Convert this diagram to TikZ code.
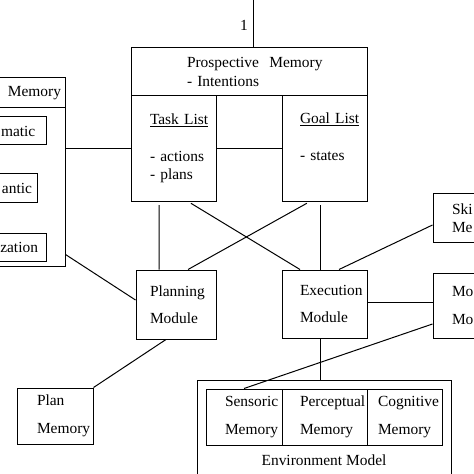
\documentclass[tikz,border=0pt]{standalone}
\usepackage{fontspec}
\setmainfont{Liberation Serif}
\usetikzlibrary{positioning}
\hyphenpenalty=10000
\exhyphenpenalty=10000
\tikzset{
  box/.style={draw, line width=1bp, inner ysep=0pt, align=left, font=\fontsize{15.5}{18.5}\selectfont},
  rbox/.style={box, align=right},
  txt/.style={inner sep=0pt, font=\fontsize{15.5}{18.5}\selectfont},
  link/.style={line width=1bp},
  gapline/.style={link, shorten <=3.5bp}
}
\begin{document}
\begin{tikzpicture}[x=1bp, y=-1bp]
  \clip (0,0) rectangle (474,474);
  \fill[white] (0,0) rectangle (474,474);
  % intentions
  \node[box, text width=124bp, inner xsep=56bp, minimum height=48bp] (pm) at (249,72) {\mbox{Prospective\ \ Memory}\\\mbox{- Intentions}};
  \node[box, text width=47bp, inner xsep=19bp, minimum height=105bp] (task) at (173.5,148.5) {\mbox{\underline{Task List}}\\[18.5bp]\mbox{- actions}\\\mbox{- plans}};
  \node[box, text width=49bp, inner xsep=18bp, minimum height=105bp] (goal) at (324.5,148.5) {\mbox{\underline{Goal List}}\\[18.5bp]\mbox{- states}\\\strut};
  \coordinate (top) at (253,-2);
  \node[txt] (one) at (244,25) {1};
  % long-term memory (cut off at the left)
  \node[rbox, text width=67bp, inner xsep=4bp, minimum height=30bp] (ltmhead) at (27.5,93) {Memory};
  \node[box, minimum width=75bp, minimum height=158bp] (ltm) at (27.5,187) {};
  \node[rbox, text width=34bp, inner xsep=11bp, minimum height=28bp] (schem) at (18,131) {matic};
  \node[rbox, text width=37bp, inner xsep=5bp, minimum height=29bp] (sem) at (13.5,188.5) {antic};
  \node[rbox, text width=40bp, inner xsep=8bp, minimum height=28bp] (org) at (18,247) {zation};
  % modules
  \node[box, text width=52bp, inner xsep=14bp, minimum height=69bp] (plan) at (176,304.5) {Planning\\[9bp]Module};
  \node[box, text width=49bp, inner xsep=18bp, minimum height=68bp] (exec) at (324.5,304) {Execution\\[9bp]Module};
  \node[box, text width=37bp, inner xsep=19bp, minimum height=56bp] (planmem) at (55.5,416) {Plan\\[9.5bp]Memory};
  \node[box, text width=19bp, inner xsep=19bp, minimum height=48bp] (skill) at (461.5,218) {Ski\\Me};
  \node[box, text width=19bp, inner xsep=19bp, minimum height=65bp] (motor) at (461.5,305.5) {Mo\\[10.5bp]Mo};
  % environment model
  \node[box, minimum width=254bp, minimum height=110bp] (env) at (324,435) {};
  \node[box, text width=38bp, inner xsep=19bp, minimum height=56bp] (sens) at (244,417) {Sensoric\\[9.5bp]Memory};
  \node[box, text width=49bp, inner xsep=18bp, minimum height=56bp] (perc) at (324.5,417) {Perceptual\\[9.5bp]Memory};
  \node[box, text width=53bp, inner xsep=11bp, minimum height=56bp] (cog) at (404.5,417) {Cognitive\\[9.5bp]Memory};
  \node[txt] (envname) at (324,460) {Environment Model};

  \draw[link] (top) -- (top |- pm.north);
  \draw[link] (ltm.east |- task.west) -- (task.west);
  \draw[link] (task.east) -- (goal.west);
  \draw[gapline] ([xshift=-14.5bp]task.south) -- ([xshift=-17bp]plan.north);
  \draw[gapline] ([xshift=14.5bp]task.south) -- ([xshift=-24.5bp]exec.north);
  \draw[gapline] ([xshift=-14.5bp]goal.south) -- ([xshift=12bp]plan.north);
  \draw[gapline] ([xshift=-4.5bp]goal.south) -- ([xshift=-4.5bp]exec.north);
  \draw[link] ([yshift=12bp]ltm.south east) -- ([yshift=4.5bp]plan.west);
  \draw[link] ([xshift=-10bp]plan.south) -- (planmem.north east);
  \draw[link] ([xshift=14.5bp]exec.north) -- ([yshift=-7bp]skill.west);
  \draw[link] ([yshift=2bp]exec.east) -- ([yshift=2bp]exec.east -| motor.west);
  \draw[link] ([yshift=-18.5bp]motor.west) -- (sens.north);
  \draw[link] ([xshift=-4.5bp]exec.south) -- ([xshift=-4.5bp]exec.south |- env.north);
\end{tikzpicture}
\end{document}
